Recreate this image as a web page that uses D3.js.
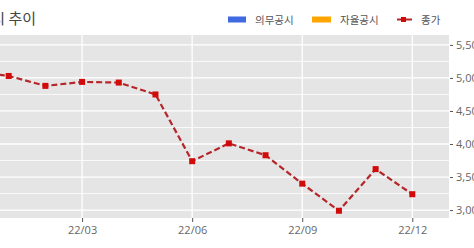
<!DOCTYPE html>
<html>
<head>
<meta charset="utf-8" />
<script src="https://d3js.org/d3.v7.min.js"></script>
<style>
  body { margin: 0; background: #fff; }
  svg { display: block; font-family: "Noto Sans CJK KR", "Noto Sans", sans-serif; }
</style>
</head>
<body>
<div id="chart"></div>
<script>
// months (index 0 = 21/12, partly off the left edge)
const months = ["21/12", "22/01", "22/02", "22/03", "22/04", "22/05", "22/06",
                "22/07", "22/08", "22/09", "22/10", "22/11", "22/12"];
const closePrice = [5100, 5030, 4880, 4940, 4930, 4750, 3740,
                    4010, 3830, 3400, 2990, 3620, 3240];
const xTickLabels = ["22/03", "22/06", "22/09", "22/12"];
const yTicks = [3000, 3500, 4000, 4500, 5000, 5500];
const yMinorTicks = [3250, 3750, 4250, 4750, 5250];
const legendItems = ["의무공시", "자율공시", "종가"];

const W = 474, H = 248;
const plot = { left: -50, right: 449, top: 35, bottom: 218 };

const svg = d3.select("#chart").append("svg")
  .attr("width", W).attr("height", H);

// x: month index -> px
const x = d3.scaleLinear().domain([-0.6, 13]).range([plot.left, plot.right]);
const y = d3.scaleLinear().domain([2880, 5650]).range([plot.bottom, plot.top]);

// panel
svg.append("rect")
  .attr("x", plot.left).attr("y", plot.top)
  .attr("width", plot.right - plot.left).attr("height", plot.bottom - plot.top)
  .attr("fill", "#e5e5e5");

// grid
svg.append("g").selectAll("line").data(yMinorTicks).enter().append("line")
  .attr("x1", plot.left).attr("x2", plot.right)
  .attr("y1", d => y(d)).attr("y2", d => y(d))
  .attr("stroke", "#fafafa").attr("stroke-width", 1);
svg.append("g").selectAll("line").data(yTicks).enter().append("line")
  .attr("x1", plot.left).attr("x2", plot.right)
  .attr("y1", d => y(d)).attr("y2", d => y(d))
  .attr("stroke", "#fff").attr("stroke-width", 1.3);
svg.append("g").selectAll("line").data(xTickLabels).enter().append("line")
  .attr("x1", d => x(months.indexOf(d))).attr("x2", d => x(months.indexOf(d)))
  .attr("y1", plot.top).attr("y2", plot.bottom)
  .attr("stroke", "#fff").attr("stroke-width", 1.3);

// x axis
const xAxis = d3.axisBottom(x)
  .tickValues(xTickLabels.map(d => months.indexOf(d)))
  .tickFormat(i => months[i])
  .tickSize(4).tickPadding(4);
const gx = svg.append("g").attr("transform", `translate(0,${plot.bottom})`).call(xAxis);
gx.select(".domain").remove();
gx.selectAll(".tick line").attr("stroke", "#555");
gx.selectAll("text").attr("fill", "#666").style("font-size", "11px")
  .style("font-family", "'Open Sans', 'DejaVu Sans', sans-serif");

// y axis on the right
const yAxis = d3.axisRight(y)
  .tickValues(yTicks)
  .tickFormat(d3.format(","))
  .tickSize(3).tickPadding(3);
const gy = svg.append("g").attr("transform", `translate(${plot.right + 1},0)`).call(yAxis);
gy.select(".domain").remove();
gy.selectAll(".tick line").attr("stroke", "#555");
gy.selectAll("text").attr("fill", "#666").style("font-size", "11px")
  .style("font-family", "'Open Sans', 'DejaVu Sans', sans-serif");

// line
const line = d3.line().x((d, i) => x(i)).y(d => y(d));
svg.append("path")
  .datum(closePrice)
  .attr("d", line)
  .attr("fill", "none")
  .attr("stroke", "#b5262a")
  .attr("stroke-width", 2.2)
  .attr("stroke-dasharray", "6,3");

svg.append("g").selectAll("rect").data(closePrice).enter().append("rect")
  .attr("x", (d, i) => x(i) - 3).attr("y", d => y(d) - 3)
  .attr("width", 6).attr("height", 6)
  .attr("fill", "#d20a0a");

// title (cut off on the left)
svg.append("text")
  .attr("x", 36).attr("y", 24)
  .attr("text-anchor", "end")
  .attr("fill", "#444")
  .style("font-size", "15px")
  .text("공시 추이");

// legend
const lg = svg.append("g").style("font-size", "10.5px");
lg.append("rect").attr("x", 228).attr("y", 16.5).attr("width", 18).attr("height", 6).attr("fill", "#4169e1");
lg.append("text").attr("x", 255).attr("y", 23.5).attr("fill", "#555").text(legendItems[0]);
lg.append("rect").attr("x", 312).attr("y", 16.5).attr("width", 19).attr("height", 6).attr("fill", "#ffa500");
lg.append("text").attr("x", 340).attr("y", 23.5).attr("fill", "#555").text(legendItems[1]);
lg.append("line").attr("x1", 397).attr("x2", 412).attr("y1", 19.5).attr("y2", 19.5)
  .attr("stroke", "#b5262a").attr("stroke-width", 2).attr("stroke-dasharray", "6,3");
lg.append("rect").attr("x", 401).attr("y", 17).attr("width", 5).attr("height", 5).attr("fill", "#d20a0a");
lg.append("text").attr("x", 421).attr("y", 23.5).attr("fill", "#555").text(legendItems[2]);
</script>
</body>
</html>
